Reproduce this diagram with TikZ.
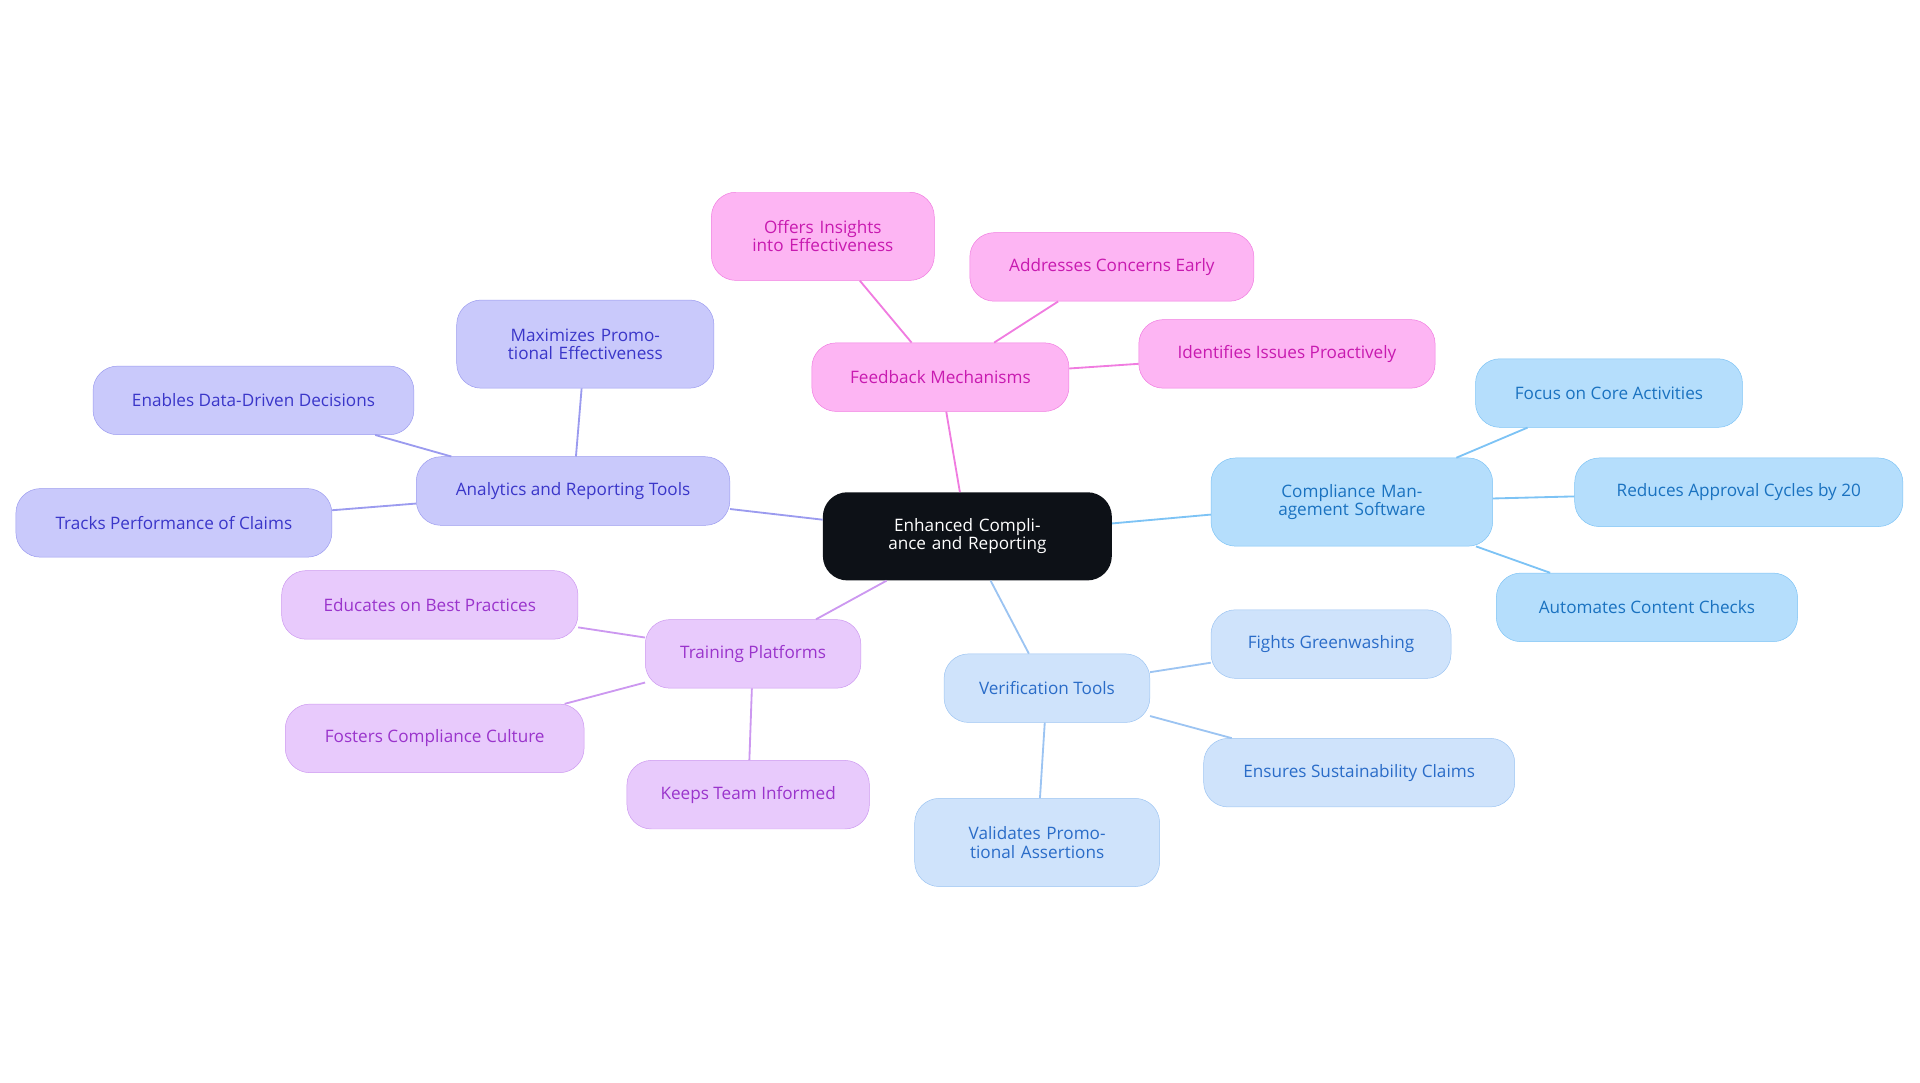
\documentclass[tikz,border=0pt]{standalone}
\usepackage{fontspec}
\setmainfont{Open Sans}
\definecolor{rootfill}{HTML}{0D1117}
\definecolor{anafill}{HTML}{C9C9FB}\definecolor{anadraw}{HTML}{9B9BEF}\definecolor{anatext}{HTML}{3A36C9}
\definecolor{feedfill}{HTML}{FDB5F3}\definecolor{feeddraw}{HTML}{F07CE0}\definecolor{feedtext}{HTML}{C81AB0}
\definecolor{compfill}{HTML}{B5DEFC}\definecolor{compdraw}{HTML}{7DC3F5}\definecolor{comptext}{HTML}{1A72C0}
\definecolor{verfill}{HTML}{CFE3FB}\definecolor{verdraw}{HTML}{9CC4F2}\definecolor{vertext}{HTML}{2A6CC8}
\definecolor{trainfill}{HTML}{E8CAFC}\definecolor{traindraw}{HTML}{CC98F0}\definecolor{traintext}{HTML}{9A34CC}

\begin{document}
\begin{tikzpicture}[x=1pt,y=-1pt,
	every node/.style={font=\fontsize{14}{15}\selectfont, rounded corners=20pt, align=center, minimum height=56pt, inner sep=4pt},
	root/.style={fill=rootfill, text=white, minimum height=72pt},
	ana/.style={fill=anafill, draw=anadraw, text=anatext},
	feed/.style={fill=feedfill, draw=feeddraw, text=feedtext},
	comp/.style={fill=compfill, draw=compdraw, text=comptext},
	ver/.style={fill=verfill, draw=verdraw, text=vertext},
	train/.style={fill=trainfill, draw=traindraw, text=traintext},
	link/.style={line width=1.5pt}]
	\useasboundingbox (0,0) rectangle (1568,884);
	
	\node[root, minimum width=236pt, text width=200pt] (root) at (790,438) {Enhanced Compliance and Reporting};
	
	\node[ana, minimum width=256pt] (ana) at (468,401) {Analytics and Reporting Tools};
	\node[ana, minimum width=210pt, text width=180pt, minimum height=72pt] (ana1) at (478,281) {Maximizes Promotional Effectiveness};
	\node[ana, minimum width=262pt] (ana2) at (207,327) {Enables Data-Driven Decisions};
	\node[ana, minimum width=258pt] (ana3) at (142,427) {Tracks Performance of Claims};
	
	\node[feed, minimum width=210pt] (feed) at (768,308) {Feedback Mechanisms};
	\node[feed, minimum width=182pt, text width=160pt, minimum height=72pt] (feed1) at (672,193) {Offers Insights into Effectiveness};
	\node[feed, minimum width=232pt] (feed2) at (908,218) {Addresses Concerns Early};
	\node[feed, minimum width=242pt] (feed3) at (1051,289) {Identifies Issues Proactively};
	
	\node[comp, minimum width=230pt, text width=200pt, minimum height=72pt] (comp) at (1104,410) {Compliance Management Software};
	\node[comp, minimum width=218pt] (comp1) at (1314,321) {Focus on Core Activities};
	\node[comp, minimum width=268pt] (comp2) at (1420,402) {Reduces Approval Cycles by 20};
	\node[comp, minimum width=246pt] (comp3) at (1345,496) {Automates Content Checks};
	
	\node[ver, minimum width=168pt] (ver) at (855,562) {Verification Tools};
	\node[ver, minimum width=196pt] (ver1) at (1087,526) {Fights Greenwashing};
	\node[ver, minimum width=254pt] (ver2) at (1110,631) {Ensures Sustainability Claims};
	\node[ver, minimum width=200pt, text width=170pt, minimum height=72pt] (ver3) at (847,688) {Validates Promotional Assertions};
	
	\node[train, minimum width=176pt] (train) at (615,534) {Training Platforms};
	\node[train, minimum width=242pt] (train1) at (351,494) {Educates on Best Practices};
	\node[train, minimum width=244pt] (train2) at (355,603) {Fosters Compliance Culture};
	\node[train, minimum width=198pt] (train3) at (611,649) {Keeps Team Informed};
	
	\begin{scope}[on background layer/.style={}]
	\end{scope}
	\begin{pgfonlayer}{main}\end{pgfonlayer}
	
	% connectors
	\draw[link, anadraw] (root) -- (ana) (ana) -- (ana1) (ana) -- (ana2) (ana) -- (ana3);
	\draw[link, feeddraw] (root) -- (feed) (feed) -- (feed1) (feed) -- (feed2) (feed) -- (feed3);
	\draw[link, compdraw] (root) -- (comp) (comp) -- (comp1) (comp) -- (comp2) (comp) -- (comp3);
	\draw[link, verdraw] (root) -- (ver) (ver) -- (ver1) (ver) -- (ver2) (ver) -- (ver3);
	\draw[link, traindraw] (root) -- (train) (train) -- (train1) (train) -- (train2) (train) -- (train3);
\end{tikzpicture}
\end{document}
